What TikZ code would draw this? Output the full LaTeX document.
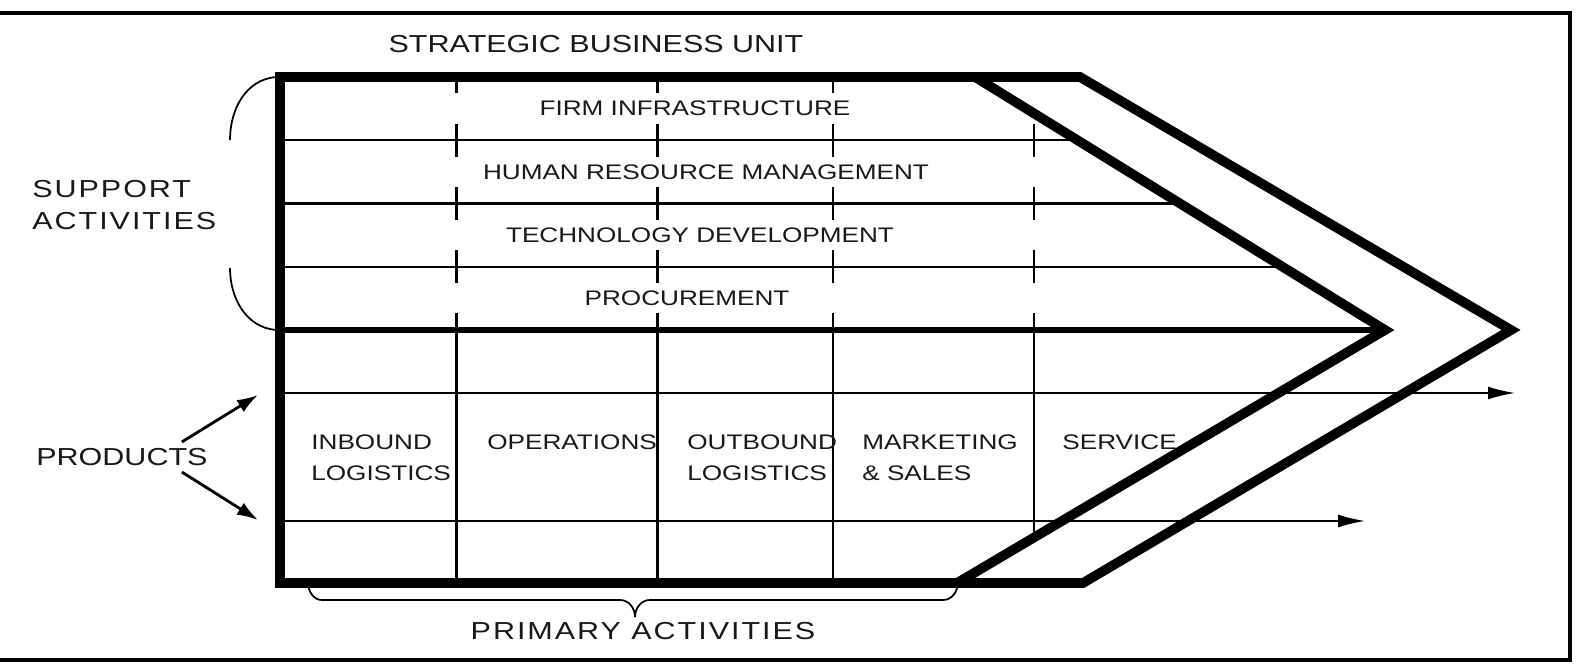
\documentclass[tikz,border=0pt]{standalone}
\usepackage{fontspec}
\setmainfont[FakeStretch=1.24]{Liberation Sans}
\usetikzlibrary{arrows.meta}

\tikzset{
  heavy/.style={line width=5.5pt,line join=miter},
  midline/.style={line width=3.2pt},
  rowline/.style={line width=1.2pt},
  sepdash/.style={line width=1.3pt,dash pattern=on 0.66cm off 0.605cm,dash phase=0.33cm},
  flow/.style={line width=1.1pt,-{Latex[length=0.54cm,width=0.26cm]}},
  push/.style={line width=1.6pt,-{Latex[length=0.42cm,width=0.28cm]}},
  curly/.style={line width=1pt},
  lbl/.style={font=\fontsize{12}{17.6}\selectfont,text=black!90,inner sep=0pt},
  cell/.style={lbl,anchor=north west,align=left},
  biglbl/.style={font=\fontsize{14}{18.1}\selectfont,text=black!90,inner sep=0pt},
  spaced/.style={biglbl,font=\fontsize{14}{18.1}\selectfont\addfontfeature{LetterSpace=8}}
}

\begin{document}
\begin{tikzpicture}
  \useasboundingbox (0,0) rectangle (31.62,13.36);
  % frame
  \draw[line width=2pt] (0,13.10) -- (31.40,13.10) -- (31.40,0.16) -- (0,0.16);
  \node[biglbl] (sbu) at (11.92,12.48) {STRATEGIC BUSINESS UNIT};

  % grid inside the chain
  \begin{scope}
    \clip (5.6,11.82) -- (19.50,11.82) -- (27.70,6.76) -- (19.14,1.70) -- (5.6,1.70) -- cycle;
    \foreach \y in {10.555,9.29,8.025}
      \draw[rowline] (5.6,\y) -- (28,\y);
    \foreach \x in {9.13,13.15,16.66,20.68} {
      \draw[sepdash] (\x,11.82) -- (\x,6.76);
      \draw[rowline] (\x,6.76) -- (\x,1.70);
    }
  \end{scope}
  \draw[flow] (5.6,5.50) -- (30.30,5.50);
  \draw[flow] (5.6,2.94) -- (27.30,2.94);

  % outline and margin chevron
  \draw[heavy] (5.6,11.82) -- (21.60,11.82) -- (30.22,6.76) -- (21.66,1.70) -- (5.6,1.70) -- cycle;
  \draw[heavy] (19.50,11.82) -- (27.70,6.76) -- (19.14,1.70);
  \draw[midline] (5.6,6.76) -- (27.70,6.76);

  % support activities
  \node[lbl] (firm) at (13.90,11.20) {FIRM INFRASTRUCTURE};
  \node[lbl] (hrm) at (14.12,9.92) {HUMAN RESOURCE MANAGEMENT};
  \node[lbl] (tech) at (14.00,8.66) {TECHNOLOGY DEVELOPMENT};
  \node[lbl] (proc) at (13.74,7.40) {PROCUREMENT};

  % primary activities
  \node[cell] (inb) at (6.22,4.67) {INBOUND\\LOGISTICS};
  \node[cell] (ops) at (9.74,4.67) {OPERATIONS};
  \node[cell] (outb) at (13.74,4.67) {OUTBOUND\\LOGISTICS};
  \node[cell] (mks) at (17.24,4.67) {MARKETING\\\& SALES};
  \node[cell] (serv) at (21.24,4.67) {SERVICE};

  % side labels
  \node[spaced,anchor=north west,align=left] (supp) at (0.64,9.76) {SUPPORT\\ACTIVITIES};
  \draw[curly] (5.52,11.82) to[out=185,in=90] (4.60,10.56);
  \draw[curly] (4.60,8.00) to[out=-90,in=175] (5.52,6.76);
  \node[biglbl,anchor=west] (prod) at (0.72,4.22) {PRODUCTS};
  \coordinate (pup) at (5.16,5.46);
  \coordinate (pdn) at (5.16,2.96);
  \draw[push] ([xshift=-0.52cm,yshift=0.12cm]prod.north east) -- (pup);
  \draw[push] ([xshift=-0.52cm,yshift=-0.12cm]prod.south east) -- (pdn);

  \draw[curly] (6.16,1.72) to[out=-90,in=180] (6.44,1.36) -- (12.40,1.36)
    to[out=0,in=90] (12.70,1.02) to[out=90,in=180] (13.00,1.36) -- (18.86,1.36)
    to[out=0,in=-90] (19.16,1.72);
  \node[spaced] (prim) at (12.86,0.74) {PRIMARY ACTIVITIES};
\end{tikzpicture}
\end{document}
